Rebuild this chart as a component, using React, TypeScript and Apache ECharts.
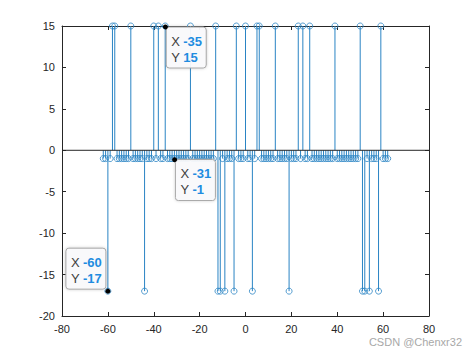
import React, { useEffect, useRef } from "react";
import * as echarts from "echarts";

// Lags (x) of the stem plot
const lags = [
  -62, -61, -60, -59, -58, -57, -56, -55, -54, -53,
  -52, -51, -50, -49, -48, -47, -46, -45, -44, -43,
  -42, -41, -40, -39, -38, -37, -36, -35, -34, -33,
  -32, -31, -30, -29, -28, -27, -26, -25, -24, -23,
  -22, -21, -20, -19, -18, -17, -16, -15, -14, -13,
  -12, -11, -10, -9, -8, -7, -6, -5, -4, -3,
  -2, -1,
  0, 1, 2, 3, 4, 5, 6, 7, 8, 9,
  10, 11, 12, 13, 14, 15, 16, 17, 18, 19,
  20, 21, 22, 23, 24, 25, 26, 27, 28, 29,
  30, 31, 32, 33, 34, 35, 36, 37, 38, 39,
  40, 41, 42, 43, 44, 45, 46, 47, 48, 49,
  50, 51, 52, 53, 54, 55, 56, 57, 58, 59,
  60, 61, 62,
];

// Correlation values (one per lag)
const values = [
  // -62 .. -1
  -1, -1, -17, -1, 15, 15, -1, -1, -1, -1,
  -1, -1, 15, -1, -1, -1, -1, -1, -17, -1,
  -1, -1, 15, -1, 15, -1, -1, 15, -1, -1,
  -1, -1, -1, -1, -1, -1, -1, -1, 15, -1,
  -1, -1, -1, -1, -1, -1, -1, -1, -1, 15,
  -17, -17, -1, -17, -1, -1, -1, -17, 15, -1,
  -1, -1,
  // 0 .. 62
  15, -1, -1, -17, -1, 15, 15, -1, -1, -1,
  -1, -1, -1, 15, -1, -1, -1, -1, -1, -17,
  -1, -1, -1, 15, -1, 15, -1, -1, 15, -1,
  -1, -1, -1, -1, -1, -1, -1, -1, -1, 15,
  -1, -1, -1, -1, -1, -1, -1, -1, -1, -1,
  15, -17, -17, -1, -17, -1, -1, -1, -17, 15,
  -1, -1, -1,
];

// Data tips shown on the figure
const tipX = [-35, -31, -60];
const tipY = [15, -1, -17];
const tipPlace = ["br", "br", "tl"];

const watermark = "CSDN @Chenxr32";

export default function App() {
  const ref = useRef<HTMLDivElement>(null);

  useEffect(() => {
    const chart = echarts.init(ref.current!, null, { renderer: "svg" });
    const axisColor = "#262626";
    const stemColor = "#2a84c4";
    const font = "'Liberation Sans', Arial, Helvetica, sans-serif";
    const pts = lags.map((l, i) => [l, values[i]]);

    const xBase = {
      type: "value" as const,
      min: -80,
      max: 80,
      interval: 20,
      splitLine: { show: false },
      axisLine: { show: true, onZero: false, lineStyle: { color: axisColor, width: 1 } },
      axisTick: { show: true, inside: true, length: 4, lineStyle: { color: axisColor } },
    };
    const yBase = {
      type: "value" as const,
      min: -20,
      max: 15,
      interval: 5,
      splitLine: { show: false },
      axisLine: { show: true, onZero: false, lineStyle: { color: axisColor, width: 1 } },
      axisTick: { show: true, inside: true, length: 4, lineStyle: { color: axisColor } },
    };

    chart.setOption({
      animation: false,
      grid: { left: 62, right: 45, top: 26, bottom: 39, show: false },
      xAxis: [
        {
          ...xBase,
          position: "bottom",
          axisLabel: { color: axisColor, fontSize: 11, margin: 7, fontFamily: font },
        },
        { ...xBase, position: "top", axisLabel: { show: false } },
      ],
      yAxis: [
        {
          ...yBase,
          position: "left",
          axisLabel: { color: axisColor, fontSize: 11, margin: 7, fontFamily: font },
        },
        { ...yBase, position: "right", axisLabel: { show: false } },
      ],
      series: [
        {
          type: "custom",
          xAxisIndex: 0,
          yAxisIndex: 0,
          clip: false,
          silent: true,
          data: pts,
          renderItem: (_params: any, api: any) => {
            const x = api.value(0);
            const y = api.value(1);
            const p0 = api.coord([x, 0]);
            const p1 = api.coord([x, y]);
            return {
              type: "line",
              shape: { x1: p0[0], y1: p0[1], x2: p1[0], y2: p1[1] },
              style: { stroke: stemColor, lineWidth: 1 },
            };
          },
          z: 2,
        },
        {
          type: "line",
          xAxisIndex: 0,
          yAxisIndex: 0,
          data: [
            [-80, 0],
            [80, 0],
          ],
          symbol: "none",
          silent: true,
          lineStyle: { color: axisColor, width: 1 },
          z: 3,
        },
        {
          type: "scatter",
          xAxisIndex: 0,
          yAxisIndex: 0,
          data: pts,
          symbol: "circle",
          symbolSize: 6,
          clip: false,
          silent: true,
          itemStyle: { color: "rgba(0,0,0,0)", borderColor: stemColor, borderWidth: 1 },
          z: 4,
        },
      ],
    });

    const graphics: any[] = [
      {
        type: "text",
        right: 12,
        top: 336,
        style: { text: watermark, fill: "#a8a8a8", fontSize: 11, fontFamily: font },
        z: 200,
      },
    ];
    tipX.forEach((xv, i) => {
      const p = chart.convertToPixel({ gridIndex: 0 }, [xv, tipY[i]]) as number[];
      const w = 40;
      const h = 41;
      const bx = tipPlace[i] === "br" ? p[0] + 1 : p[0] - w - 2;
      const by = tipPlace[i] === "br" ? p[1] + 1 : p[1] - h - 2;
      graphics.push(
        {
          type: "rect",
          shape: { x: bx, y: by, width: w, height: h, r: 3 },
          style: {
            fill: "rgba(250,250,252,0.95)",
            stroke: "#a6a6a6",
            lineWidth: 1,
            shadowBlur: 3,
            shadowColor: "rgba(0,0,0,0.2)",
          },
          z: 100,
        },
        {
          type: "text",
          x: bx + 5,
          y: by + 6,
          style: {
            text: `{l|X} {v|${xv}}\n{l|Y} {v|${tipY[i]}}`,
            rich: {
              l: { fill: "#404040", fontSize: 13, fontFamily: font, lineHeight: 16 },
              v: { fill: "#1f8ce0", fontSize: 13, fontWeight: "bold", fontFamily: font, lineHeight: 16 },
            },
          },
          z: 101,
        },
        {
          type: "circle",
          shape: { cx: p[0], cy: p[1], r: 2.5 },
          style: { fill: "#000" },
          z: 102,
        }
      );
    });
    chart.setOption({ graphic: graphics });

    return () => chart.dispose();
  }, []);

  return (
    <div
      ref={ref}
      style={{ position: "absolute", left: 0, top: 0, width: 474, height: 355, background: "#fff" }}
    />
  );
}
